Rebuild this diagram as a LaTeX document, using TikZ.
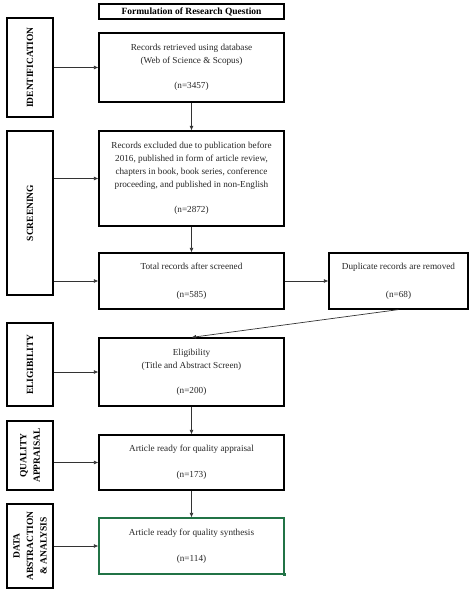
\documentclass[tikz,border=0pt]{standalone}
\usepackage{fontspec}
\setmainfont{Liberation Serif}
\usetikzlibrary{arrows.meta,positioning}
\definecolor{xlgreen}{RGB}{33,115,70}

\begin{document}
\begin{tikzpicture}[x=1pt, y=-1pt, >={Latex[length=4.5pt,width=4pt]},
  stage/.style={draw, line width=1.2pt, rotate=90, minimum width=#1, minimum height=46pt, inner sep=1pt, align=center, font=\bfseries\fontsize{9.5}{13.5}\selectfont},
  proc/.style={draw, line width=1.2pt, minimum width=185pt, minimum height=#1, inner sep=1pt, align=center, font=\fontsize{9.2}{12.8}\selectfont, text=black!85},
  link/.style={->, line width=0.7pt, draw=black!80}]
\useasboundingbox (0,0) rectangle (474,593);
% stages on the left
\node[stage=99pt] (idn) at (30,67.5) {IDENTIFICATION};
\node[stage=164pt] (scr) at (30,213) {SCREENING};
\node[stage=83pt] (elg) at (30,364.5) {ELIGIBILITY};
\node[stage=69pt] (qua) at (30,455.5) {QUALITY\\APPRAISAL};
\node[stage=84pt] (dat) at (30,546) {DATA\\ABSTRACTION\\\& ANALYSIS};
% main column
\node[proc=15pt, font=\bfseries\fontsize{9.5}{11}\selectfont, text=black] (rq) at (191.5,11.5) {Formulation of Research Question};
\node[proc=69pt] (b1) at (191.5,67.5) {Records retrieved using database\\(Web of Science \& Scopus)\\[12pt](n=3457)};
\node[proc=95pt] (b2) at (191.5,178.5) {Records excluded due to publication before\\2016, published in form of article review,\\chapters in book, book series, conference\\proceeding, and published in non-English\\[13pt](n=2872)};
\node[proc=56pt] (b3) at (191.5,281) {Total records after screened\\[15pt](n=585)};
\node[proc=56pt, minimum width=139pt] (dup) at (398.5,281) {Duplicate records are removed\\[15pt](n=68)};
\node[proc=68pt] (b4) at (191.5,372) {Eligibility\\(Title and Abstract Screen)\\[12pt](n=200)};
\node[proc=55pt] (b5) at (191.5,462.5) {Article ready for quality appraisal\\[13pt](n=173)};
\node[proc=56pt, draw=xlgreen] (b6) at (191.5,546) {Article ready for quality synthesis\\[13pt](n=114)};
\node[fill=xlgreen, minimum size=3.5pt, inner sep=0pt] (hdl) at (b6.south east) {};
% connectors
\foreach \a/\b in {b1/b2, b2/b3, b4/b5, b5/b6} \draw[link] (\a) -- (\b);
\draw[link] (b3) -- (dup);
\draw[link] (dup.south) -- (b4.north);
\foreach \s/\b in {idn/b1, scr/b2, scr/b3, elg/b4, qua/b5, dat/b6} \draw[link] (\s.south |- \b.west) -- (\b.west);
\end{tikzpicture}
\end{document}
